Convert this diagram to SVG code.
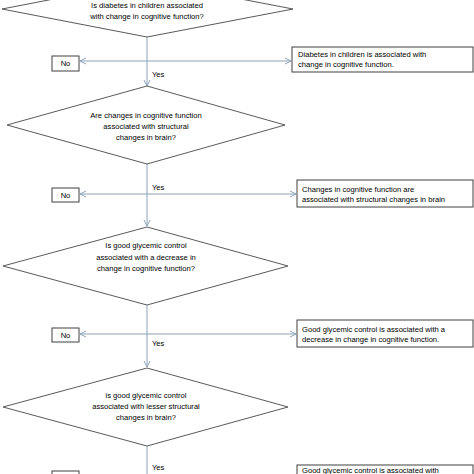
<svg xmlns="http://www.w3.org/2000/svg" width="474" height="474" viewBox="0 0 474 474">
<defs>
<style>
.dia{fill:#fff;stroke:#5a5a5a;stroke-width:1}
.box{fill:#fff;stroke:#404040;stroke-width:1}
.con{fill:none;stroke:#8ea3ba;stroke-width:1}
text{font-family:"Liberation Sans",Arial,sans-serif;font-size:7.6px;fill:#000}
.c{text-anchor:middle}
</style>
<marker id="ah" viewBox="0 0 8 8" refX="7" refY="4" markerWidth="8" markerHeight="8" markerUnits="userSpaceOnUse" orient="auto">
<path d="M1,1 L7,4 L1,7" fill="none" stroke="#8ea3ba" stroke-width="1"/>
</marker>
</defs>
<rect width="474" height="474" fill="#fff"/>
<g id="connectors">
<path class="con" d="M147,37 V86" marker-end="url(#ah)"/>
<path class="con" d="M147,61 H80" marker-end="url(#ah)"/>
<path class="con" d="M147,61 H291" marker-end="url(#ah)"/>
<path class="con" d="M147,164 V226" marker-end="url(#ah)"/>
<path class="con" d="M147,194 H80" marker-end="url(#ah)"/>
<path class="con" d="M147,194 H296" marker-end="url(#ah)"/>
<path class="con" d="M147,305 V367" marker-end="url(#ah)"/>
<path class="con" d="M147,334 H80" marker-end="url(#ah)"/>
<path class="con" d="M147,334 H296" marker-end="url(#ah)"/>
<path class="con" d="M147,446 V474"/>
</g>
<g id="q1">
<polygon class="dia" points="147,-19 293,9 147,37 2,9"/>
<text class="c" x="147" y="8">Is diabetes in children associated</text>
<text class="c" x="147" y="19">with change in cognitive function?</text>
</g>
<g id="no1"><rect class="box" x="52" y="56" width="27" height="15"/><text class="c" x="65.5" y="66">No</text></g>
<g id="yes1"><text x="152" y="77">Yes</text></g>
<g id="r1">
<rect class="box" x="292" y="47" width="181" height="25"/>
<text x="298" y="57">Diabetes in children is associated with</text>
<text x="298" y="67">change in cognitive function.</text>
</g>
<g id="q2">
<polygon class="dia" points="147,86 285,125 147,164 7,125"/>
<text class="c" x="146" y="118">Are changes in cognitive function</text>
<text class="c" x="146" y="129">associated with structural</text>
<text class="c" x="146" y="140">changes in brain?</text>
</g>
<g id="no2"><rect class="box" x="52" y="188" width="27" height="14"/><text class="c" x="65.5" y="198">No</text></g>
<g id="yes2"><text x="152" y="190">Yes</text></g>
<g id="r2">
<rect class="box" x="297" y="180" width="176" height="27"/>
<text x="302" y="192">Changes in cognitive function are</text>
<text x="302" y="202">associated with structural changes in brain</text>
</g>
<g id="q3">
<polygon class="dia" points="147,227 288,266 147,305 3,266"/>
<text class="c" x="146" y="248">Is good glycemic control</text>
<text class="c" x="146" y="260">associated with a decrease in</text>
<text class="c" x="146" y="271">change in cognitive function?</text>
</g>
<g id="no3"><rect class="box" x="52" y="328" width="27" height="14"/><text class="c" x="65.5" y="338">No</text></g>
<g id="yes3"><text x="152" y="346">Yes</text></g>
<g id="r3">
<rect class="box" x="297" y="320" width="176" height="27"/>
<text x="302" y="332">Good glycemic control is associated with a</text>
<text x="302" y="342">decrease in change in cognitive function.</text>
</g>
<g id="q4">
<polygon class="dia" points="147,368 288,407 147,446 3,407"/>
<text class="c" x="146" y="398">is good glycemic control</text>
<text class="c" x="146" y="409">associated with lesser structural</text>
<text class="c" x="146" y="420">changes in brain?</text>
</g>
<g id="no4"><rect class="box" x="52" y="471" width="27" height="15"/></g>
<g id="yes4"><text x="152" y="470">Yes</text></g>
<g id="r4">
<rect class="box" x="297" y="465" width="176" height="27"/>
<text x="302" y="473">Good glycemic control is associated with</text>
</g>
</svg>
